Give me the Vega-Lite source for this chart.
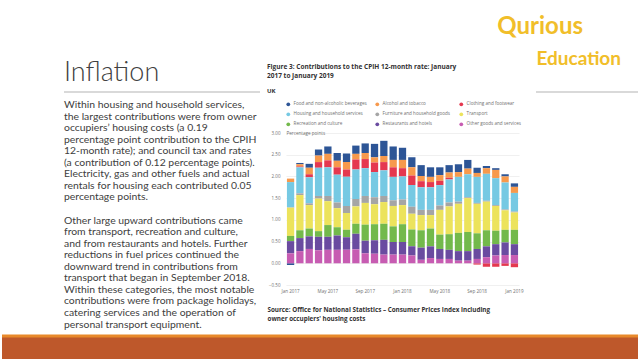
{
  "$schema": "https://vega.github.io/schema/vega-lite/v6.json",
  "background": "white",
  "padding": {"left": 0, "top": 14, "right": 0, "bottom": 0},
  "config": {"view": {"stroke": null}, "font": "Open Sans", "legend": {"gridAlign": "none"}},
  "datasets": {
    "cats": [
      {"c": "Other goods and services", "k": 1},
      {"c": "Restaurants and hotels", "k": 2},
      {"c": "Recreation and culture", "k": 3},
      {"c": "Transport", "k": 4},
      {"c": "Furniture and household goods", "k": 5},
      {"c": "Housing and household services", "k": 6},
      {"c": "Clothing and footwear", "k": 7},
      {"c": "Alcohol and tobacco", "k": 8},
      {"c": "Food and non-alcoholic beverages", "k": 9}
    ]
  },
  "title": {
    "text": "Qurious",
    "anchor": "end",
    "frame": "bounds",
    "dx": -60,
    "offset": 11,
    "font": "Lato",
    "fontSize": 24,
    "fontWeight": "bold",
    "color": "#F1BE29"
  },
  "spacing": 0,
  "resolve": {"scale": {"color": "independent"}, "legend": {"color": "independent"}},
  "vconcat": [
    {
      "spacing": 6,
      "resolve": {"scale": {"color": "independent"}, "legend": {"color": "independent"}},
      "hconcat": [
        {
          "width": 258,
          "height": 201,
          "view": {"fill": "white", "stroke": null},
          "title": {
            "text": "Inflation",
            "anchor": "start",
            "dx": 62,
            "font": "Lato",
            "fontSize": 27,
            "fontWeight": 300,
            "color": "#404040",
            "offset": 4
          },
          "layer": [
            {
              "data": {"values": [{}]},
              "mark": {"type": "rule", "color": "#d9d9d9", "strokeWidth": 2},
              "encoding": {
                "x": {"datum": 0, "type": "quantitative", "scale": {"domain": [0, 1], "range": [62, 258]}, "axis": null},
                "x2": {"datum": 1},
                "y": {"datum": -1.125, "type": "quantitative", "scale": {"domain": [2.424, 19.822], "reverse": true, "nice": false, "zero": false}, "axis": null}
              }
            },
            {
              "data": {
                "values": [
                  {"line": 0, "text": "Within housing and household services,"},
                  {"line": 1, "text": "the largest contributions were from owner"},
                  {"line": 2, "text": "occupiers’ housing costs (a 0.19"},
                  {"line": 3, "text": "percentage point contribution to the CPIH"},
                  {"line": 4, "text": "12-month rate); and council tax and rates"},
                  {"line": 5, "text": "(a contribution of 0.12 percentage points)."},
                  {"line": 6, "text": "Electricity, gas and other fuels and actual"},
                  {"line": 7, "text": "rentals for housing each contributed 0.05"},
                  {"line": 8, "text": "percentage points."},
                  {"line": 10, "text": "Other large upward contributions came"},
                  {"line": 11, "text": "from transport, recreation and culture,"},
                  {"line": 12, "text": "and from restaurants and hotels. Further"},
                  {"line": 13, "text": "reductions in fuel prices continued the"},
                  {"line": 14, "text": "downward trend in contributions from"},
                  {"line": 15, "text": "transport that began in September 2018."},
                  {"line": 16, "text": "Within these categories, the most notable"},
                  {"line": 17, "text": "contributions were from package holidays,"},
                  {"line": 18, "text": "catering services and the operation of"},
                  {"line": 19, "text": "personal transport equipment."}
                ]
              },
              "mark": {"type": "text", "align": "left", "baseline": "middle", "font": "Lato", "fontSize": 10.4, "color": "#404040"},
              "encoding": {
                "x": {"datum": 0, "type": "quantitative", "scale": {"domain": [0, 1], "range": [62, 258]}, "axis": null},
                "y": {"field": "line", "type": "quantitative", "scale": {"domain": [2.424, 19.822], "reverse": true, "nice": false, "zero": false}, "axis": null},
                "text": {"field": "text"}
              }
            }
          ]
        },
        {
          "width": 233,
          "height": 152,
          "title": {
            "text": ["Figure 3: Contributions to the CPIH 12-month rate: January", "2017 to January 2019"],
            "subtitle": "UK",
            "anchor": "start",
            "frame": "bounds",
            "font": "Open Sans",
            "fontSize": 6.5,
            "fontWeight": "bold",
            "color": "#323132",
            "lineHeight": 9.3,
            "subtitleFont": "Open Sans",
            "subtitleFontSize": 6,
            "subtitleFontWeight": "bold",
            "subtitleColor": "#323132",
            "subtitlePadding": 8,
            "offset": 8
          },
          "data": {
            "values": [
              {"m": "Jan 2017", "Other goods and services": 0.23, "Restaurants and hotels": 0.28, "Recreation and culture": 0.12, "Transport": 0.65, "Furniture and household goods": 0.01, "Housing and household services": 0.58, "Clothing and footwear": 0.0, "Alcohol and tobacco": 0.08, "Food and non-alcoholic beverages": -0.04},
              {"m": "Feb 2017", "Other goods and services": 0.28, "Restaurants and hotels": 0.30, "Recreation and culture": 0.18, "Transport": 0.81, "Furniture and household goods": 0.04, "Housing and household services": 0.60, "Clothing and footwear": 0.02, "Alcohol and tobacco": 0.05, "Food and non-alcoholic beverages": 0.03},
              {"m": "Mar 2017", "Other goods and services": 0.33, "Restaurants and hotels": 0.29, "Recreation and culture": 0.18, "Transport": 0.54, "Furniture and household goods": 0.04, "Housing and household services": 0.60, "Clothing and footwear": 0.07, "Alcohol and tobacco": 0.15, "Food and non-alcoholic beverages": 0.09},
              {"m": "Apr 2017", "Other goods and services": 0.30, "Restaurants and hotels": 0.31, "Recreation and culture": 0.13, "Transport": 0.75, "Furniture and household goods": 0.06, "Housing and household services": 0.65, "Clothing and footwear": 0.13, "Alcohol and tobacco": 0.15, "Food and non-alcoholic beverages": 0.14},
              {"m": "May 2017", "Other goods and services": 0.31, "Restaurants and hotels": 0.30, "Recreation and culture": 0.27, "Transport": 0.55, "Furniture and household goods": 0.12, "Housing and household services": 0.66, "Clothing and footwear": 0.16, "Alcohol and tobacco": 0.15, "Food and non-alcoholic beverages": 0.17},
              {"m": "Jun 2017", "Other goods and services": 0.31, "Restaurants and hotels": 0.33, "Recreation and culture": 0.19, "Transport": 0.44, "Furniture and household goods": 0.13, "Housing and household services": 0.64, "Clothing and footwear": 0.17, "Alcohol and tobacco": 0.15, "Food and non-alcoholic beverages": 0.18},
              {"m": "Jul 2017", "Other goods and services": 0.31, "Restaurants and hotels": 0.29, "Recreation and culture": 0.17, "Transport": 0.39, "Furniture and household goods": 0.16, "Housing and household services": 0.67, "Clothing and footwear": 0.17, "Alcohol and tobacco": 0.17, "Food and non-alcoholic beverages": 0.20},
              {"m": "Aug 2017", "Other goods and services": 0.32, "Restaurants and hotels": 0.36, "Recreation and culture": 0.23, "Transport": 0.40, "Furniture and household goods": 0.17, "Housing and household services": 0.68, "Clothing and footwear": 0.23, "Alcohol and tobacco": 0.13, "Food and non-alcoholic beverages": 0.19},
              {"m": "Sep 2017", "Other goods and services": 0.23, "Restaurants and hotels": 0.29, "Recreation and culture": 0.37, "Transport": 0.50, "Furniture and household goods": 0.16, "Housing and household services": 0.64, "Clothing and footwear": 0.21, "Alcohol and tobacco": 0.14, "Food and non-alcoholic beverages": 0.22},
              {"m": "Oct 2017", "Other goods and services": 0.22, "Restaurants and hotels": 0.31, "Recreation and culture": 0.37, "Transport": 0.46, "Furniture and household goods": 0.16, "Housing and household services": 0.58, "Clothing and footwear": 0.22, "Alcohol and tobacco": 0.12, "Food and non-alcoholic beverages": 0.31},
              {"m": "Nov 2017", "Other goods and services": 0.20, "Restaurants and hotels": 0.34, "Recreation and culture": 0.37, "Transport": 0.50, "Furniture and household goods": 0.14, "Housing and household services": 0.59, "Clothing and footwear": 0.19, "Alcohol and tobacco": 0.14, "Food and non-alcoholic beverages": 0.35},
              {"m": "Dec 2017", "Other goods and services": 0.20, "Restaurants and hotels": 0.29, "Recreation and culture": 0.36, "Transport": 0.47, "Furniture and household goods": 0.13, "Housing and household services": 0.54, "Clothing and footwear": 0.22, "Alcohol and tobacco": 0.17, "Food and non-alcoholic beverages": 0.31},
              {"m": "Jan 2018", "Other goods and services": 0.20, "Restaurants and hotels": 0.29, "Recreation and culture": 0.41, "Transport": 0.44, "Furniture and household goods": 0.13, "Housing and household services": 0.53, "Clothing and footwear": 0.19, "Alcohol and tobacco": 0.19, "Food and non-alcoholic beverages": 0.28},
              {"m": "Feb 2018", "Other goods and services": 0.18, "Restaurants and hotels": 0.21, "Recreation and culture": 0.39, "Transport": 0.36, "Furniture and household goods": 0.16, "Housing and household services": 0.50, "Clothing and footwear": 0.22, "Alcohol and tobacco": 0.19, "Food and non-alcoholic beverages": 0.23},
              {"m": "Mar 2018", "Other goods and services": 0.08, "Restaurants and hotels": 0.28, "Recreation and culture": 0.40, "Transport": 0.35, "Furniture and household goods": 0.12, "Housing and household services": 0.52, "Clothing and footwear": 0.14, "Alcohol and tobacco": 0.12, "Food and non-alcoholic beverages": 0.25},
              {"m": "Apr 2018", "Other goods and services": 0.12, "Restaurants and hotels": 0.27, "Recreation and culture": 0.41, "Transport": 0.31, "Furniture and household goods": 0.12, "Housing and household services": 0.52, "Clothing and footwear": 0.12, "Alcohol and tobacco": 0.12, "Food and non-alcoholic beverages": 0.22},
              {"m": "May 2018", "Other goods and services": 0.10, "Restaurants and hotels": 0.23, "Recreation and culture": 0.33, "Transport": 0.57, "Furniture and household goods": 0.10, "Housing and household services": 0.47, "Clothing and footwear": 0.10, "Alcohol and tobacco": 0.13, "Food and non-alcoholic beverages": 0.18},
              {"m": "Jun 2018", "Other goods and services": 0.10, "Restaurants and hotels": 0.21, "Recreation and culture": 0.36, "Transport": 0.64, "Furniture and household goods": 0.09, "Housing and household services": 0.53, "Clothing and footwear": 0.04, "Alcohol and tobacco": 0.12, "Food and non-alcoholic beverages": 0.17},
              {"m": "Jul 2018", "Other goods and services": 0.06, "Restaurants and hotels": 0.22, "Recreation and culture": 0.42, "Transport": 0.67, "Furniture and household goods": 0.05, "Housing and household services": 0.57, "Clothing and footwear": 0.0, "Alcohol and tobacco": 0.11, "Food and non-alcoholic beverages": 0.18},
              {"m": "Aug 2018", "Other goods and services": 0.06, "Restaurants and hotels": 0.22, "Recreation and culture": 0.44, "Transport": 0.78, "Furniture and household goods": 0.02, "Housing and household services": 0.53, "Clothing and footwear": 0.0, "Alcohol and tobacco": 0.13, "Food and non-alcoholic beverages": 0.20},
              {"m": "Sep 2018", "Other goods and services": 0.10, "Restaurants and hotels": 0.23, "Recreation and culture": 0.36, "Transport": 0.68, "Furniture and household goods": 0.02, "Housing and household services": 0.60, "Clothing and footwear": -0.03, "Alcohol and tobacco": 0.09, "Food and non-alcoholic beverages": 0.12},
              {"m": "Oct 2018", "Other goods and services": 0.14, "Restaurants and hotels": 0.25, "Recreation and culture": 0.37, "Transport": 0.66, "Furniture and household goods": 0.02, "Housing and household services": 0.62, "Clothing and footwear": -0.08, "Alcohol and tobacco": 0.13, "Food and non-alcoholic beverages": 0.05},
              {"m": "Nov 2018", "Other goods and services": 0.18, "Restaurants and hotels": 0.26, "Recreation and culture": 0.31, "Transport": 0.57, "Furniture and household goods": 0.02, "Housing and household services": 0.62, "Clothing and footwear": -0.08, "Alcohol and tobacco": 0.19, "Food and non-alcoholic beverages": 0.04},
              {"m": "Dec 2018", "Other goods and services": 0.19, "Restaurants and hotels": 0.29, "Recreation and culture": 0.29, "Transport": 0.45, "Furniture and household goods": 0.02, "Housing and household services": 0.62, "Clothing and footwear": -0.06, "Alcohol and tobacco": 0.14, "Food and non-alcoholic beverages": 0.05},
              {"m": "Jan 2019", "Other goods and services": 0.19, "Restaurants and hotels": 0.25, "Recreation and culture": 0.33, "Transport": 0.40, "Furniture and household goods": 0.02, "Housing and household services": 0.43, "Clothing and footwear": -0.09, "Alcohol and tobacco": 0.14, "Food and non-alcoholic beverages": 0.08}
            ]
          },
          "transform": [
            {"fold": ["Food and non-alcoholic beverages", "Alcohol and tobacco", "Clothing and footwear", "Housing and household services", "Furniture and household goods", "Transport", "Recreation and culture", "Restaurants and hotels", "Other goods and services"], "as": ["c", "v"]},
            {"lookup": "c", "from": {"data": {"name": "cats"}, "key": "c", "fields": ["k"]}}
          ],
          "mark": {"type": "bar"},
          "encoding": {
            "x": {
              "field": "m",
              "type": "ordinal",
              "sort": null,
              "scale": {"paddingInner": 0.22, "paddingOuter": 0.1},
              "axis": {
                "values": ["Jan 2017", "May 2017", "Sep 2017", "Jan 2018", "May 2018", "Sep 2018", "Jan 2019"],
                "labelAngle": 0,
                "labelFont": "Open Sans",
                "labelFontSize": 4.6,
                "labelColor": "#707070",
                "labelPadding": 3,
                "ticks": false,
                "domain": false,
                "title": ["Source: Office for National Statistics – Consumer Prices Index including", "owner occupiers' housing costs"],
                "titleFont": "Open Sans",
                "titleFontSize": 6.3,
                "titleFontWeight": "bold",
                "titleColor": "#323132",
                "titleAnchor": "start",
                "titleAlign": "left",
                "titleX": -19,
                "titleY": 21.5,
                "titleBaseline": "top",
                "titleLineHeight": 9.4
              }
            },
            "y": {
              "field": "v",
              "type": "quantitative",
              "stack": "zero",
              "scale": {"domain": [-0.5, 3], "nice": false},
              "axis": {
                "values": [-0.5, 0, 0.5, 1, 1.5, 2, 2.5, 3],
                "format": ".2f",
                "labelFont": "Open Sans",
                "labelFontSize": 4.5,
                "labelColor": "#707070",
                "labelPadding": 6,
                "ticks": false,
                "domain": false,
                "gridColor": "#e6e6e6",
                "gridWidth": 0.6,
                "title": "Percentage points",
                "titleAngle": 0,
                "titleX": 0,
                "titleY": 0,
                "titleAlign": "left",
                "titleBaseline": "middle",
                "titleFont": "Open Sans",
                "titleFontSize": 4.6,
                "titleFontWeight": "normal",
                "titleColor": "#707070"
              }
            },
            "order": {"field": "k", "type": "quantitative", "sort": "ascending"},
            "color": {
              "field": "c",
              "type": "nominal",
              "sort": ["Food and non-alcoholic beverages", "Alcohol and tobacco", "Clothing and footwear", "Housing and household services", "Furniture and household goods", "Transport", "Recreation and culture", "Restaurants and hotels", "Other goods and services"],
              "scale": {
                "domain": ["Food and non-alcoholic beverages", "Alcohol and tobacco", "Clothing and footwear", "Housing and household services", "Furniture and household goods", "Transport", "Recreation and culture", "Restaurants and hotels", "Other goods and services"],
                "range": ["#2d5596", "#f7994c", "#e5384f", "#76c9e3", "#a5a5a5", "#ece35c", "#73b94b", "#6a4ba0", "#c75cb2"]
              },
              "legend": {
                "orient": "top",
                "direction": "horizontal",
                "title": null,
                "columns": 3,
                "gridAlign": "none",
                "symbolType": "circle",
                "symbolSize": 14,
                "symbolStrokeWidth": 0,
                "labelFont": "Open Sans",
                "labelFontSize": 4.6,
                "labelColor": "#707070",
                "labelOffset": 3,
                "columnPadding": 8,
                "rowPadding": 4,
                "offset": 6
              }
            }
          }
        },
        {
          "width": 112,
          "height": 201,
          "view": {"fill": "white", "stroke": null},
          "title": {
            "text": "Education",
            "anchor": "end",
            "frame": "group",
            "dx": -21,
            "offset": 22,
            "font": "Lato",
            "fontSize": 19,
            "fontWeight": "bold",
            "color": "#F1BE29"
          },
          "data": {"values": [{}]},
          "mark": {"type": "rule", "color": "#d9d9d9", "strokeWidth": 2},
          "encoding": {
            "x": {"datum": 0, "type": "quantitative", "scale": {"domain": [0, 1], "range": [6, 112]}, "axis": null},
            "x2": {"datum": 1},
            "y": {"datum": -1.125, "type": "quantitative", "scale": {"domain": [2.424, 19.822], "reverse": true, "nice": false, "zero": false}, "axis": null}
          }
        }
      ]
    },
    {
      "width": 638,
      "height": 26,
      "view": {"fill": "#BE582B", "stroke": null},
      "data": {"values": [{}]},
      "mark": {"type": "rule", "color": "#E8892B", "strokeWidth": 3},
      "encoding": {
        "x": {"datum": 0, "type": "quantitative", "scale": {"domain": [0, 1]}, "axis": null},
        "x2": {"datum": 1},
        "y": {"datum": 1, "type": "quantitative", "scale": {"domain": [0, 1]}, "axis": null}
      }
    }
  ]
}
